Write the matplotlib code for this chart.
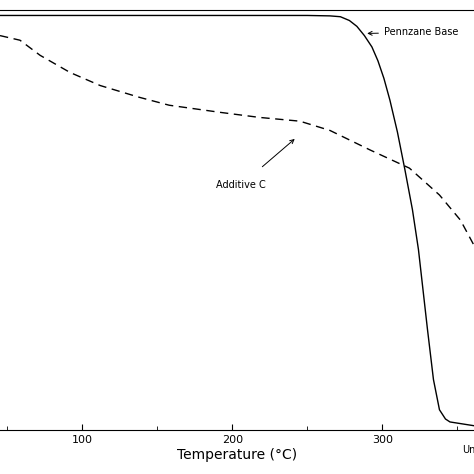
import matplotlib
matplotlib.use("Agg")
import matplotlib.pyplot as plt

pen_t = [45, 150, 250, 265, 272, 278, 283, 288, 293, 297, 301, 305, 310, 315, 320, 324, 327, 330, 334, 338, 342, 345, 361]
pen_w = [98.8, 98.8, 98.8, 98.7, 98.5, 97.6, 96.2, 94, 91.3, 88, 83.8, 78.6, 71, 62, 52.5, 43, 33.5, 24, 12, 4.8, 2.6, 1.9, 1.0]
add_t = [45.3, 58.6, 72, 92, 112, 138, 158, 192, 218, 245, 265, 292, 318, 338, 352, 361]
add_w = [94, 92.9, 89.3, 85.2, 82.1, 79.3, 77.4, 75.7, 74.5, 73.6, 71.4, 66.7, 62.4, 56, 50, 44]
xticks = [100, 200, 300]

fig = plt.figure(figsize=(4.74, 4.74), dpi=100)
ax = fig.add_axes([0, 0.093, 1.0, 0.885])
ax.plot(pen_t, pen_w, color="black", lw=1)
ax.plot(add_t, add_w, color="black", lw=1, ls=(0, (6, 4)))
ax.set_xlim(45.3, 361)
ax.set_ylim(0, 100)
ax.set_yticks([])
ax.set_xticks(xticks)
ax.set_xticks([50, 150, 250, 350], minor=True)
ax.tick_params(axis="x", direction="in", labelsize=8, length=4)
ax.tick_params(axis="x", which="minor", direction="in", length=3)
for s in ["left", "right"]:
    ax.spines[s].set_visible(False)
ax.set_xlabel("Temperature (°C)", fontsize=10, labelpad=2)
ax.annotate("Pennzane Base", xy=(288, 94.5), xytext=(301, 94.8), fontsize=7,
            va="center", arrowprops=dict(arrowstyle="->", color="black", lw=0.7))
ax.annotate("Additive C", xy=(243, 69.8), xytext=(189, 58.3), fontsize=7,
            va="center", arrowprops=dict(arrowstyle="->", color="black", lw=0.7,
                                         shrinkA=12))
fig.text(0.975, 0.044, "Un", fontsize=7)
fig.savefig("out.png", dpi=100)
